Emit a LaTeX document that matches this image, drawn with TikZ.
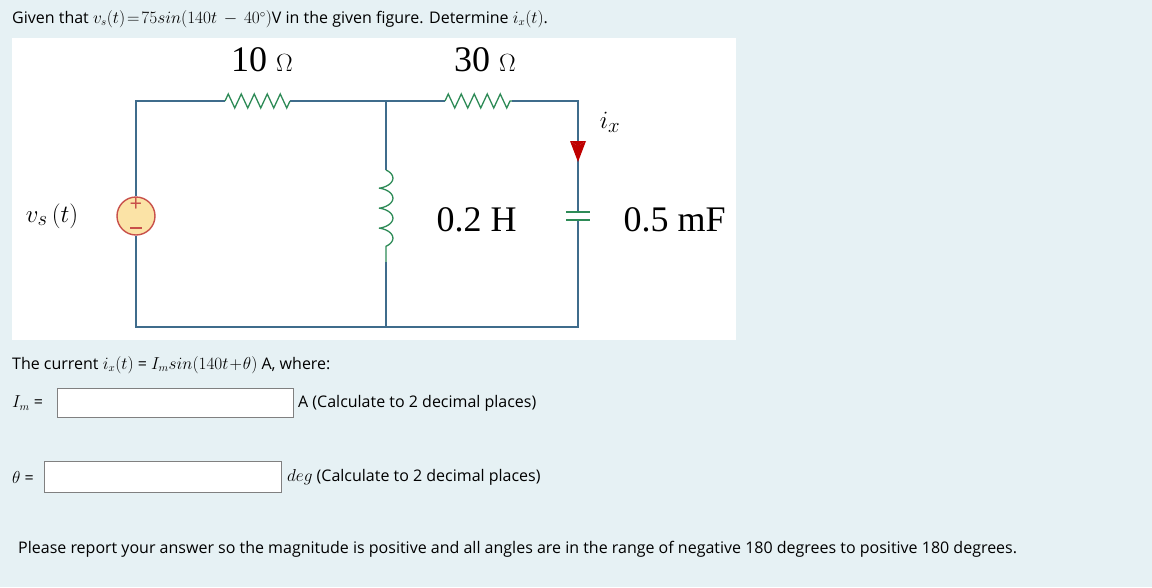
\documentclass[tikz,border=0pt]{standalone}
\usepackage{fontspec}
\setmainfont{Open Sans}
\newfontfamily\serifc{Liberation Serif}
\usetikzlibrary{decorations.pathmorphing,arrows.meta}
\definecolor{bg}{HTML}{E6F1F4}
\definecolor{wire}{HTML}{3F6C8C}
\definecolor{grn}{HTML}{2E8B57}
\definecolor{srcf}{HTML}{FBE3A6}
\definecolor{srcb}{HTML}{C8504A}
\tikzset{x=1pt,y=-1pt,
 w/.style={wire,line width=1.3pt},
 lbl/.style={font=\serifc\fontsize{36}{36}\selectfont},
 txt/.style={anchor=west,font=\fontsize{16}{18}\selectfont,inner sep=0},
 res/.style={grn,line width=1.3pt,decorate,decoration={zigzag,segment length=13pt,amplitude=7pt}},
 box/.style={draw=gray,fill=white,line width=0.8pt}}
\begin{document}
\begin{tikzpicture}
\useasboundingbox (0,0) rectangle (1152,587);
\fill[bg] (0,0) rectangle (1152,587);
\fill[white] (12,38) rectangle (736,340);
\coordinate (tl) at (136,101); \coordinate (tm) at (386,101); \coordinate (tr) at (578,101);
\coordinate (bl) at (136,327); \coordinate (bm) at (386,327); \coordinate (br) at (578,327);
\coordinate (r1a) at (225,101); \coordinate (r1b) at (290,101);
\coordinate (r2a) at (445,101); \coordinate (r2b) at (512,101);
\coordinate (la) at (386,170); \coordinate (lb) at (386,262);
\coordinate (ca) at (578,212); \coordinate (cb) at (578,220);
\node[circle,draw=srcb,fill=srcf,line width=1.4pt,minimum size=38pt,inner sep=0] (src) at (136,216) {};
\node[font=\fontsize{22}{22}\selectfont,text=srcb] at (136,205) {+};
\draw[srcb,line width=1.6pt] (130,228)--(142,228);
\draw[w] (src.north)--(tl)--(r1a) (r1b)--(tm)--(r2a) (r2b)--(tr)--(ca);
\draw[w] (src.south)--(bl)--(bm)--(br)--(cb);
\draw[w] (tm)--(la) (lb)--(bm);
\draw[res] (r1a)--(r1b);
\draw[res] (r2a)--(r2b);
\draw[grn,line width=1.3pt,decorate,decoration={coil,amplitude=7pt,segment length=20pt,aspect=0.45}] (la)--(lb);
\draw[grn,line width=1.4pt] (566,212)--(590,212) (566,220)--(590,220);
\coordinate (ax) at (578,162);
\fill[red!75!black] (570,141)--(586,141)--(578,146)--cycle;
\fill[red!75!black] (570,141)--(578,146)--(586,141)--(ax)--cycle;
\node[lbl] (l1) at (262,60) {10 $\Omega$};
\node[lbl] (l2) at (485,60) {30 $\Omega$};
\node[font=\fontsize{30}{30}\selectfont] at (610,122) {$i_x$};
\node[lbl,anchor=west] at (433,220) {0.2 H};
\node[lbl,anchor=west] at (620,220) {0.5 mF};
\node[font=\fontsize{28}{28}\selectfont] at (52,216) {$v_s\,(t)$};
\node[txt] at (12,19) {Given that $v_s(t)\!=\!75sin(140t\,-\,40^{\circ})$V in the given figure. Determine $i_x(t)$.};
\node[txt] at (12,365) {The current $i_x(t)$ = $I_m sin(140t\!+\!\theta)$ A, where:};
\node[txt] at (12,403) {$I_m$ =};
\draw[box] (57,388) rectangle (293,417);
\node[txt] at (298,403) {A (Calculate to 2 decimal places)};
\node[txt] at (12,477) {$\theta$ =};
\draw[box] (44,461) rectangle (281,492);
\node[txt] at (287,477) {$deg$ (Calculate to 2 decimal places)};
\node[txt] at (18,549) {Please report your answer so the magnitude is positive and all angles are in the range of negative 180 degrees to positive 180 degrees.};
\end{tikzpicture}
\end{document}
